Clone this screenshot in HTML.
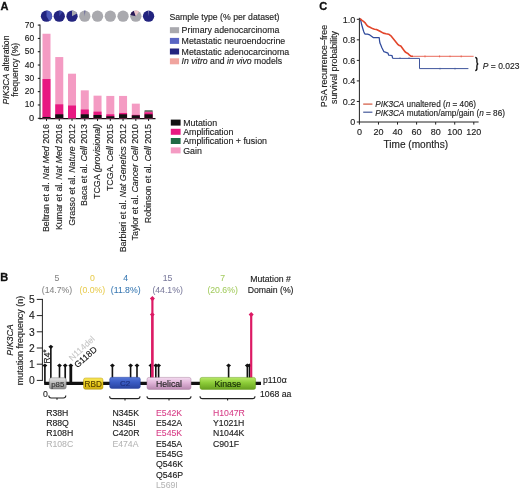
<!DOCTYPE html>
<html lang="en"><head><meta charset="utf-8"><title>PIK3CA alterations figure</title>
<style>html,body{margin:0;padding:0;background:#fff;}body{width:520px;height:491px;overflow:hidden;}svg{display:block;}</style>
</head><body>
<svg width="520" height="491" viewBox="0 0 520 491" font-family="'Liberation Sans', Arial, Helvetica, sans-serif" font-size="8.7" fill="#222">
<defs>
<linearGradient id="gp85" x1="0" y1="0" x2="0" y2="1"><stop offset="0" stop-color="#e8e8e8"/><stop offset="0.45" stop-color="#b8b8b8"/><stop offset="1" stop-color="#8c8c8c"/></linearGradient>
<linearGradient id="grbd" x1="0" y1="0" x2="0" y2="1"><stop offset="0" stop-color="#f8e860"/><stop offset="0.45" stop-color="#efd21f"/><stop offset="1" stop-color="#c8a810"/></linearGradient>
<linearGradient id="gc2" x1="0" y1="0" x2="0" y2="1"><stop offset="0" stop-color="#5878d8"/><stop offset="0.45" stop-color="#3a5cc4"/><stop offset="1" stop-color="#2a44a0"/></linearGradient>
<linearGradient id="ghel" x1="0" y1="0" x2="0" y2="1"><stop offset="0" stop-color="#f4dcf0"/><stop offset="0.45" stop-color="#e0b4d8"/><stop offset="1" stop-color="#b888b0"/></linearGradient>
<linearGradient id="gkin" x1="0" y1="0" x2="0" y2="1"><stop offset="0" stop-color="#b8e868"/><stop offset="0.45" stop-color="#8ccc38"/><stop offset="1" stop-color="#68a020"/></linearGradient>
</defs>
<rect width="520" height="491" fill="#fff"/>
<text x="0.4" y="9.9" font-size="11" font-weight="bold" fill="#111" stroke="#111" stroke-width="0.3">A</text>
<circle cx="46.50" cy="16.15" r="5.65" fill="#23247f"/>
<path d="M46.50,16.15 L46.50,10.50 A5.65,5.65 0 0 1 49.33,21.04 Z" fill="#4e59b8"/>
<circle cx="59.26" cy="16.15" r="5.65" fill="#23247f"/>
<path d="M59.26,16.15 L59.26,10.50 A5.65,5.65 0 0 1 62.74,11.70 Z" fill="#3c46a4"/>
<circle cx="72.02" cy="16.15" r="5.65" fill="#23247f"/>
<path d="M72.02,16.15 L72.02,10.50 A5.65,5.65 0 0 1 77.01,13.50 Z" fill="#a9a9ae"/>
<circle cx="84.78" cy="16.15" r="5.65" fill="#a9a9ae"/>
<path d="M84.78,16.15 L84.58,10.50 A5.65,5.65 0 0 1 85.27,10.52 Z" fill="#23247f"/>
<circle cx="97.54" cy="16.15" r="5.65" fill="#a9a9ae"/>
<circle cx="110.30" cy="16.15" r="5.65" fill="#a9a9ae"/>
<circle cx="123.06" cy="16.15" r="5.65" fill="#a9a9ae"/>
<circle cx="135.82" cy="16.15" r="5.65" fill="#a9a9ae"/>
<path d="M135.82,16.15 L130.29,14.98 A5.65,5.65 0 0 1 133.89,10.84 Z" fill="#2a1a58"/>
<path d="M135.82,16.15 L133.89,10.84 A5.65,5.65 0 0 1 139.14,11.58 Z" fill="#ecc4c8"/>
<circle cx="148.58" cy="16.15" r="5.65" fill="#23247f"/>
<path d="M148.58,16.15 L148.38,10.50 A5.65,5.65 0 0 1 148.88,10.51 Z" fill="#e8e8f4"/>
<path d="M40,24.59 V119.20" fill="none" stroke="#333" stroke-width="1.1"/>
<path d="M39.5,118.60 H155.5" fill="none" stroke="#111" stroke-width="1.2"/>
<path d="M37.8,118.30 H40" stroke="#111" stroke-width="1"/>
<text x="34.2" y="120.80" text-anchor="end" font-size="9.3" fill="#222" stroke="#222" stroke-width="0.14">0</text>
<path d="M37.8,104.98 H40" stroke="#111" stroke-width="1"/>
<text x="34.2" y="107.48" text-anchor="end" font-size="9.3" textLength="9.4" lengthAdjust="spacingAndGlyphs" fill="#222" stroke="#222" stroke-width="0.14">10</text>
<path d="M37.8,91.67 H40" stroke="#111" stroke-width="1"/>
<text x="34.2" y="94.17" text-anchor="end" font-size="9.3" textLength="9.4" lengthAdjust="spacingAndGlyphs" fill="#222" stroke="#222" stroke-width="0.14">20</text>
<path d="M37.8,78.35 H40" stroke="#111" stroke-width="1"/>
<text x="34.2" y="80.85" text-anchor="end" font-size="9.3" textLength="9.4" lengthAdjust="spacingAndGlyphs" fill="#222" stroke="#222" stroke-width="0.14">30</text>
<path d="M37.8,65.04 H40" stroke="#111" stroke-width="1"/>
<text x="34.2" y="67.54" text-anchor="end" font-size="9.3" textLength="9.4" lengthAdjust="spacingAndGlyphs" fill="#222" stroke="#222" stroke-width="0.14">40</text>
<path d="M37.8,51.73 H40" stroke="#111" stroke-width="1"/>
<text x="34.2" y="54.23" text-anchor="end" font-size="9.3" textLength="9.4" lengthAdjust="spacingAndGlyphs" fill="#222" stroke="#222" stroke-width="0.14">50</text>
<path d="M37.8,38.41 H40" stroke="#111" stroke-width="1"/>
<text x="34.2" y="40.91" text-anchor="end" font-size="9.3" textLength="9.4" lengthAdjust="spacingAndGlyphs" fill="#222" stroke="#222" stroke-width="0.14">60</text>
<path d="M37.8,25.09 H40" stroke="#111" stroke-width="1"/>
<text x="34.2" y="27.59" text-anchor="end" font-size="9.3" textLength="9.4" lengthAdjust="spacingAndGlyphs" fill="#222" stroke="#222" stroke-width="0.14">70</text>
<path d="M46.50,118.30 v2.6" stroke="#111" stroke-width="1"/>
<rect x="42.50" y="33.75" width="8" height="84.55" fill="#f49bc3"/>
<rect x="42.50" y="79.02" width="8" height="39.28" fill="#e81881"/>
<rect x="42.50" y="116.97" width="8" height="1.33" fill="#111"/>
<path d="M59.26,118.30 v2.6" stroke="#111" stroke-width="1"/>
<rect x="55.26" y="57.05" width="8" height="61.25" fill="#f49bc3"/>
<rect x="55.26" y="104.32" width="8" height="13.98" fill="#e81881"/>
<rect x="55.26" y="114.31" width="8" height="3.99" fill="#111"/>
<path d="M72.02,118.30 v2.6" stroke="#111" stroke-width="1"/>
<rect x="68.02" y="73.69" width="8" height="44.61" fill="#f49bc3"/>
<rect x="68.02" y="105.52" width="8" height="12.78" fill="#e81881"/>
<path d="M84.78,118.30 v2.6" stroke="#111" stroke-width="1"/>
<rect x="80.78" y="90.34" width="8" height="27.96" fill="#f49bc3"/>
<rect x="80.78" y="109.51" width="8" height="8.79" fill="#e81881"/>
<rect x="80.78" y="114.31" width="8" height="3.99" fill="#111"/>
<path d="M97.54,118.30 v2.6" stroke="#111" stroke-width="1"/>
<rect x="93.54" y="95.66" width="8" height="22.64" fill="#f49bc3"/>
<rect x="93.54" y="111.64" width="8" height="6.66" fill="#e81881"/>
<rect x="93.54" y="114.97" width="8" height="3.33" fill="#111"/>
<path d="M110.30,118.30 v2.6" stroke="#111" stroke-width="1"/>
<rect x="106.30" y="95.93" width="8" height="22.37" fill="#f49bc3"/>
<rect x="106.30" y="114.31" width="8" height="3.99" fill="#e81881"/>
<rect x="106.30" y="116.30" width="8" height="2.00" fill="#111"/>
<path d="M123.06,118.30 v2.6" stroke="#111" stroke-width="1"/>
<rect x="119.06" y="95.93" width="8" height="22.37" fill="#f49bc3"/>
<rect x="119.06" y="112.97" width="8" height="5.33" fill="#e81881"/>
<rect x="119.06" y="114.31" width="8" height="3.99" fill="#111"/>
<path d="M135.82,118.30 v2.6" stroke="#111" stroke-width="1"/>
<rect x="131.82" y="103.65" width="8" height="14.65" fill="#f49bc3"/>
<rect x="131.82" y="114.84" width="8" height="3.46" fill="#e81881"/>
<rect x="131.82" y="115.37" width="8" height="2.93" fill="#111"/>
<path d="M148.58,118.30 v2.6" stroke="#111" stroke-width="1"/>
<rect x="144.58" y="110.44" width="8" height="7.86" fill="#12301f"/>
<rect x="144.58" y="111.51" width="8" height="6.79" fill="#f49bc3"/>
<rect x="144.58" y="112.31" width="8" height="5.99" fill="#e81881"/>
<rect x="144.58" y="114.31" width="8" height="3.99" fill="#111"/>
<text transform="translate(8.5,70.0) rotate(-90)" text-anchor="middle" font-size="8.7" stroke="#222" stroke-width="0.14"><tspan font-style="italic">PIK3CA</tspan> alteration</text>
<text transform="translate(18.3,69.8) rotate(-90)" text-anchor="middle" font-size="8.7" stroke="#222" stroke-width="0.14">frequency (%)</text>
<text transform="translate(49.00,124.0) rotate(-90)" text-anchor="end" font-size="8.9" stroke="#222" stroke-width="0.14">Beltran et al. <tspan font-style="italic">Nat Med</tspan> 2016</text>
<text transform="translate(61.76,124.0) rotate(-90)" text-anchor="end" font-size="8.9" stroke="#222" stroke-width="0.14">Kumar et al. <tspan font-style="italic">Nat Med</tspan> 2016</text>
<text transform="translate(74.52,124.0) rotate(-90)" text-anchor="end" font-size="8.9" stroke="#222" stroke-width="0.14">Grasso et al. <tspan font-style="italic">Nature</tspan> 2012</text>
<text transform="translate(87.28,124.0) rotate(-90)" text-anchor="end" font-size="8.9" stroke="#222" stroke-width="0.14">Baca et al. <tspan font-style="italic">Cell</tspan> 2013</text>
<text transform="translate(100.04,124.0) rotate(-90)" text-anchor="end" font-size="8.9" stroke="#222" stroke-width="0.14">TCGA <tspan font-style="italic">(provisional)</tspan></text>
<text transform="translate(112.80,124.0) rotate(-90)" text-anchor="end" font-size="8.9" stroke="#222" stroke-width="0.14">TCGA. <tspan font-style="italic">Cell</tspan> 2015</text>
<text transform="translate(125.56,124.0) rotate(-90)" text-anchor="end" font-size="8.9" stroke="#222" stroke-width="0.14">Barbieri et al. <tspan font-style="italic">Nat Genetics</tspan> 2012</text>
<text transform="translate(138.32,124.0) rotate(-90)" text-anchor="end" font-size="8.9" stroke="#222" stroke-width="0.14">Taylor et al. <tspan font-style="italic">Cancer Cell</tspan> 2010</text>
<text transform="translate(151.08,124.0) rotate(-90)" text-anchor="end" font-size="8.9" stroke="#222" stroke-width="0.14">Robinson et al. <tspan font-style="italic">Cell</tspan> 2015</text>
<text x="169.4" y="19.8" font-size="8.7" stroke="#222" stroke-width="0.14">Sample type (% per dataset)</text>
<rect x="169.9" y="27.20" width="9.2" height="6.0" fill="#a9a9ae"/>
<text x="181.6" y="33.30" font-size="8.8" stroke="#222" stroke-width="0.14">Primary adenocarcinoma</text>
<rect x="169.9" y="37.90" width="9.2" height="6.0" fill="#5a66c4"/>
<text x="181.6" y="44.00" font-size="8.8" stroke="#222" stroke-width="0.14">Metastatic neuroendocrine</text>
<rect x="169.9" y="48.50" width="9.2" height="6.0" fill="#23247f"/>
<text x="181.6" y="54.60" font-size="8.8" stroke="#222" stroke-width="0.14">Metastatic adenocarcinoma</text>
<rect x="169.9" y="58.30" width="9.2" height="6.0" fill="#f0a49e"/>
<text x="181.6" y="64.40" font-size="8.7" stroke="#222" stroke-width="0.14"><tspan font-style="italic">In vitro</tspan> and <tspan font-style="italic">in vivo</tspan> models</text>
<rect x="170.8" y="119.60" width="9.8" height="6.0" fill="#111"/>
<text x="183.2" y="125.75" font-size="8.85" stroke="#222" stroke-width="0.14">Mutation</text>
<rect x="170.8" y="128.80" width="9.8" height="6.0" fill="#e81881"/>
<text x="183.2" y="134.95" font-size="8.85" stroke="#222" stroke-width="0.14">Amplification</text>
<rect x="170.8" y="138.00" width="9.8" height="6.0" fill="#1f6b45"/>
<text x="183.2" y="144.15" font-size="8.85" stroke="#222" stroke-width="0.14">Amplification + fusion</text>
<rect x="170.8" y="147.40" width="9.8" height="6.0" fill="#f49bc3"/>
<text x="183.2" y="153.55" font-size="8.85" stroke="#222" stroke-width="0.14">Gain</text>
<text x="319.2" y="9.6" font-size="11" font-weight="bold" fill="#111" stroke="#111" stroke-width="0.3">C</text>
<path d="M359.4,17.80 V122.00 H478.6" fill="none" stroke="#222" stroke-width="1"/>
<path d="M356.79999999999995,122.00 H359.4" stroke="#222" stroke-width="1"/>
<text x="355.2" y="125.20" text-anchor="end" font-size="9" stroke="#222" stroke-width="0.14">0</text>
<path d="M356.79999999999995,101.46 H359.4" stroke="#222" stroke-width="1"/>
<text x="355.2" y="104.66" text-anchor="end" font-size="9" stroke="#222" stroke-width="0.14">0.2</text>
<path d="M356.79999999999995,80.92 H359.4" stroke="#222" stroke-width="1"/>
<text x="355.2" y="84.12" text-anchor="end" font-size="9" stroke="#222" stroke-width="0.14">0.4</text>
<path d="M356.79999999999995,60.38 H359.4" stroke="#222" stroke-width="1"/>
<text x="355.2" y="63.58" text-anchor="end" font-size="9" stroke="#222" stroke-width="0.14">0.6</text>
<path d="M356.79999999999995,39.84 H359.4" stroke="#222" stroke-width="1"/>
<text x="355.2" y="43.04" text-anchor="end" font-size="9" stroke="#222" stroke-width="0.14">0.8</text>
<path d="M356.79999999999995,19.30 H359.4" stroke="#222" stroke-width="1"/>
<text x="355.2" y="22.50" text-anchor="end" font-size="9" stroke="#222" stroke-width="0.14">1.0</text>
<path d="M359.40,122.00 v2.6" stroke="#222" stroke-width="1"/>
<text x="359.40" y="134.90" text-anchor="middle" font-size="9" stroke="#222" stroke-width="0.14">0</text>
<path d="M378.47,122.00 v2.6" stroke="#222" stroke-width="1"/>
<text x="378.47" y="134.90" text-anchor="middle" font-size="9" stroke="#222" stroke-width="0.14">20</text>
<path d="M397.53,122.00 v2.6" stroke="#222" stroke-width="1"/>
<text x="397.53" y="134.90" text-anchor="middle" font-size="9" stroke="#222" stroke-width="0.14">40</text>
<path d="M416.60,122.00 v2.6" stroke="#222" stroke-width="1"/>
<text x="416.60" y="134.90" text-anchor="middle" font-size="9" stroke="#222" stroke-width="0.14">60</text>
<path d="M435.67,122.00 v2.6" stroke="#222" stroke-width="1"/>
<text x="435.67" y="134.90" text-anchor="middle" font-size="9" stroke="#222" stroke-width="0.14">80</text>
<path d="M454.73,122.00 v2.6" stroke="#222" stroke-width="1"/>
<text x="454.73" y="134.90" text-anchor="middle" font-size="9" stroke="#222" stroke-width="0.14">100</text>
<path d="M473.80,122.00 v2.6" stroke="#222" stroke-width="1"/>
<text x="473.80" y="134.90" text-anchor="middle" font-size="9" stroke="#222" stroke-width="0.14">120</text>
<text x="415.8" y="147.9" text-anchor="middle" font-size="10.1" stroke="#222" stroke-width="0.14">Time (months)</text>
<text transform="translate(326.6,66.0) rotate(-90)" text-anchor="middle" font-size="8.9" stroke="#222" stroke-width="0.14">PSA recurrence–free</text>
<text transform="translate(336.8,67.5) rotate(-90)" text-anchor="middle" font-size="8.9" stroke="#222" stroke-width="0.14">survival probability</text>
<path d="M360.1,18.7 L361.0,21.5 L361.7,24.8 L362.7,28.2 L363.7,31.5 L364.4,33.2 L365.1,34.2 L367.5,34.2 L369.8,34.9 L371.5,36.2 L373.2,37.6 L379.2,37.6 L379.5,40.3 L379.9,43.0 L380.9,45.3 L381.9,47.7 L382.9,49.7 L383.9,51.7 L386.0,52.3 L388.0,53.1 L388.6,55.1 L392.0,55.5 L392.7,58.4" fill="none" stroke="#2f4a9c" stroke-width="1.25" stroke-linejoin="round"/>
<path d="M392.7,58.4 L419.5,58.4 L419.5,68.6 L468.4,68.6" fill="none" stroke="#3f559c" stroke-width="1.0" stroke-linejoin="miter"/>
<path d="M360.1,18.7 L362.0,20.4 L363.5,21.4 L365.1,22.8 L366.5,24.9 L367.8,26.2 L370.0,27.3 L372.5,28.6 L374.5,29.2 L376.5,29.5 L380.0,31.3 L383.3,33.1 L386.0,33.7 L388.6,34.2 L391.3,36.2 L394.7,40.4 L398.1,44.7 L399.4,45.6 L400.8,46.1 L402.8,48.8 L404.8,51.5 L406.5,52.8 L408.2,53.7 L409.5,55.2 L410.9,56.2 L413.0,56.3" fill="none" stroke="#e2452a" stroke-width="1.6" stroke-linejoin="round"/>
<path d="M413.0,56.3 L473.6,56.3" fill="none" stroke="#e65a48" stroke-width="0.9"/>
<path d="M425,55.4 v2 M439.6,55.4 v2 M461.2,55.4 v2 M450,55.6 v1.6" stroke="#e4503c" stroke-width="0.7" fill="none"/>
<path d="M400,57.2 v1.8 M409,57.2 v1.8 M440,67.8 v1.8 M455,67.8 v1.8" stroke="#3f559c" stroke-width="0.6" fill="none"/>
<path d="M475.2,57.5 q1.7,0 1.7,2.0 v2.6 q0,1.7 1.3,1.9 q-1.3,0.2 -1.3,1.9 v2.6 q0,2.0 -1.7,2.0" fill="none" stroke="#111" stroke-width="1.35"/>
<text x="482.8" y="68.5" font-size="9.3" textLength="36.6" lengthAdjust="spacingAndGlyphs" stroke="#222" stroke-width="0.14"><tspan font-style="italic">P</tspan> = 0.023</text>
<path d="M363.2,104.1 h9.2" stroke="#d2553c" stroke-width="1.2"/>
<path d="M363.2,112.2 h9.2" stroke="#45589a" stroke-width="1.2"/>
<text x="375.2" y="106.9" font-size="8.5" textLength="100.8" lengthAdjust="spacingAndGlyphs" stroke="#222" stroke-width="0.14"><tspan font-style="italic">PIK3CA</tspan> unaltered (<tspan font-style="italic">n</tspan> = 406)</text>
<text x="375.2" y="115.7" font-size="8.5" textLength="129.8" lengthAdjust="spacingAndGlyphs" stroke="#222" stroke-width="0.14"><tspan font-style="italic">PIK3CA</tspan> mutation/amp/gain (<tspan font-style="italic">n</tspan> = 86)</text>
<text x="0.3" y="281.4" font-size="11" font-weight="bold" fill="#111" stroke="#111" stroke-width="0.3">B</text>
<path d="M42.4,298.90 V380.90" stroke="#222" stroke-width="1"/>
<path d="M36.8,380.40 H42.4" stroke="#222" stroke-width="1"/>
<path d="M36.8,364.20 H42.4" stroke="#222" stroke-width="1"/>
<text x="34.8" y="367.90" text-anchor="end" font-size="10.3" stroke="#222" stroke-width="0.14">1</text>
<path d="M36.8,348.00 H42.4" stroke="#222" stroke-width="1"/>
<text x="34.8" y="351.70" text-anchor="end" font-size="10.3" stroke="#222" stroke-width="0.14">2</text>
<path d="M36.8,331.80 H42.4" stroke="#222" stroke-width="1"/>
<text x="34.8" y="335.50" text-anchor="end" font-size="10.3" stroke="#222" stroke-width="0.14">3</text>
<path d="M36.8,315.60 H42.4" stroke="#222" stroke-width="1"/>
<text x="34.8" y="319.30" text-anchor="end" font-size="10.3" stroke="#222" stroke-width="0.14">4</text>
<path d="M36.8,299.40 H42.4" stroke="#222" stroke-width="1"/>
<text x="34.8" y="303.10" text-anchor="end" font-size="10.3" stroke="#222" stroke-width="0.14">5</text>
<text x="47.9" y="396.5" text-anchor="end" font-size="8.7" stroke="#222" stroke-width="0.14">0</text>
<text x="34.8" y="384.10" text-anchor="end" font-size="10.3" stroke="#222" stroke-width="0.14">0</text>
<text transform="translate(12.7,340) rotate(-90)" text-anchor="middle" font-size="8.8" font-style="italic" stroke="#222" stroke-width="0.14">PIK3CA</text>
<text transform="translate(22.8,340.5) rotate(-90)" text-anchor="middle" font-size="8.95" stroke="#222" stroke-width="0.14">mutation frequency (n)</text>
<path d="M44.2,383.4 H261" stroke="#111" stroke-width="3.4"/>
<path d="M44.90,383.4 V365.50" stroke="#111" stroke-width="1.6"/>
<path d="M44.90,363.40 l2.45,2.10 l-2.45,2.10 l-2.45,-2.10 Z" fill="#111"/>
<path d="M50.85,383.4 V346.80" stroke="#111" stroke-width="1.6"/>
<path d="M50.85,344.70 l2.45,2.10 l-2.45,2.10 l-2.45,-2.10 Z" fill="#111"/>
<path d="M59.50,383.4 V365.50" stroke="#111" stroke-width="1.6"/>
<path d="M59.50,363.40 l2.45,2.10 l-2.45,2.10 l-2.45,-2.10 Z" fill="#111"/>
<path d="M65.20,383.4 V365.50" stroke="#111" stroke-width="1.7"/>
<path d="M65.20,363.40 l2.45,2.10 l-2.45,2.10 l-2.45,-2.10 Z" fill="#111"/>
<path d="M70.80,383.4 V365.50" stroke="#111" stroke-width="2.8"/>
<path d="M70.80,363.40 l2.45,2.10 l-2.45,2.10 l-2.45,-2.10 Z" fill="#111"/>
<path d="M112.40,383.4 V365.50" stroke="#111" stroke-width="1.6"/>
<path d="M112.40,363.40 l2.45,2.10 l-2.45,2.10 l-2.45,-2.10 Z" fill="#111"/>
<path d="M130.60,383.4 V365.50" stroke="#111" stroke-width="1.6"/>
<path d="M130.60,363.40 l2.45,2.10 l-2.45,2.10 l-2.45,-2.10 Z" fill="#111"/>
<path d="M137.00,383.4 V365.50" stroke="#111" stroke-width="1.6"/>
<path d="M137.00,363.40 l2.45,2.10 l-2.45,2.10 l-2.45,-2.10 Z" fill="#111"/>
<path d="M150.90,383.4 V365.50" stroke="#111" stroke-width="1.6"/>
<path d="M150.90,363.40 l2.45,2.10 l-2.45,2.10 l-2.45,-2.10 Z" fill="#111"/>
<path d="M155.80,383.4 V365.50" stroke="#111" stroke-width="1.6"/>
<path d="M155.80,363.40 l2.45,2.10 l-2.45,2.10 l-2.45,-2.10 Z" fill="#111"/>
<path d="M158.60,383.4 V365.50" stroke="#111" stroke-width="1.6"/>
<path d="M158.60,363.40 l2.45,2.10 l-2.45,2.10 l-2.45,-2.10 Z" fill="#111"/>
<path d="M228.60,383.4 V365.50" stroke="#111" stroke-width="1.6"/>
<path d="M228.60,363.40 l2.45,2.10 l-2.45,2.10 l-2.45,-2.10 Z" fill="#111"/>
<path d="M247.30,383.4 V365.50" stroke="#111" stroke-width="1.5"/>
<path d="M247.30,363.40 l2.45,2.10 l-2.45,2.10 l-2.45,-2.10 Z" fill="#111"/>
<path d="M249.40,383.4 V365.50" stroke="#111" stroke-width="1.5"/>
<path d="M249.40,363.40 l2.45,2.10 l-2.45,2.10 l-2.45,-2.10 Z" fill="#111"/>
<path d="M152.30,383.4 V314.60" stroke="#dc1a64" stroke-width="2.2"/>
<path d="M152.30,312.20 l2.40,2.40 l-2.40,2.40 l-2.40,-2.40 Z" fill="#dc1a64"/>
<path d="M152.40,383.4 V298.60" stroke="#dc1a64" stroke-width="2.2"/>
<path d="M152.40,296.00 l2.50,2.60 l-2.50,2.60 l-2.50,-2.60 Z" fill="#dc1a64"/>
<path d="M251.20,383.4 V314.60" stroke="#dc1a64" stroke-width="2.2"/>
<path d="M251.20,312.00 l2.50,2.60 l-2.50,2.60 l-2.50,-2.60 Z" fill="#dc1a64"/>
<rect x="49.3" y="377.8" width="16.90" height="11.20" rx="2" ry="2" fill="url(#gp85)" stroke="#777" stroke-width="0.5"/>
<text x="57.75" y="386.50" text-anchor="middle" font-size="7.8" fill="#333" stroke="#333" stroke-width="0.14">p85</text>
<rect x="83.5" y="378" width="19.50" height="11.30" rx="2" ry="2" fill="url(#grbd)" stroke="#b89a10" stroke-width="0.5"/>
<text x="93.25" y="386.75" text-anchor="middle" font-size="8.2" fill="#5a4400" stroke="#5a4400" stroke-width="0.14">RBD</text>
<rect x="109.7" y="377.3" width="30.60" height="11.10" rx="2" ry="2" fill="url(#gc2)" stroke="#2a44a0" stroke-width="0.5"/>
<text x="125.00" y="385.95" text-anchor="middle" font-size="8.0" fill="#1c2e7a" stroke="#1c2e7a" stroke-width="0.14">C2</text>
<rect x="147" y="377.4" width="44.00" height="12.00" rx="2" ry="2" fill="url(#ghel)" stroke="#a880a0" stroke-width="0.5"/>
<text x="169.00" y="386.50" text-anchor="middle" font-size="8.7" fill="#222" stroke="#222" stroke-width="0.14">Helical</text>
<rect x="200" y="377.4" width="55.60" height="12.00" rx="2" ry="2" fill="url(#gkin)" stroke="#68a020" stroke-width="0.5"/>
<text x="227.80" y="386.50" text-anchor="middle" font-size="8.7" fill="#142a05" stroke="#142a05" stroke-width="0.14">Kinase</text>
<text x="263" y="383.0" font-size="8.7" stroke="#222" stroke-width="0.14">p110α</text>
<text x="260" y="396.5" font-size="8.7" stroke="#222" stroke-width="0.14">1068 aa</text>
<path d="M48.8,395.6 q0,2.4 2.4,2.4 H63.4 q2.4,0 2.4,-2.4 M57,398.0 v1.8" fill="none" stroke="#222" stroke-width="1.1"/>
<path d="M109.6,396.20000000000005 q0,2.4 2.4,2.4 H137.6 q2.4,0 2.4,-2.4 M125,398.6 v1.8" fill="none" stroke="#222" stroke-width="1.1"/>
<path d="M147,396.20000000000005 q0,2.4 2.4,2.4 H188.6 q2.4,0 2.4,-2.4 M169,398.6 v1.8" fill="none" stroke="#222" stroke-width="1.1"/>
<path d="M200,396.20000000000005 q0,2.4 2.4,2.4 H252.6 q2.4,0 2.4,-2.4 M227.6,398.6 v1.8" fill="none" stroke="#222" stroke-width="1.1"/>
<text x="57" y="281.4" text-anchor="middle" font-size="8.7" fill="#848484" stroke="#848484" stroke-width="0.06">5</text>
<text x="57" y="293.2" text-anchor="middle" font-size="8.7" fill="#848484" stroke="#848484" stroke-width="0.06">(14.7%)</text>
<text x="92.3" y="281.4" text-anchor="middle" font-size="8.7" fill="#e8cc50" stroke="#e8cc50" stroke-width="0.06">0</text>
<text x="92.3" y="293.2" text-anchor="middle" font-size="8.7" fill="#e8cc50" stroke="#e8cc50" stroke-width="0.06">(0.0%)</text>
<text x="125.7" y="281.4" text-anchor="middle" font-size="8.7" fill="#3878b2" stroke="#3878b2" stroke-width="0.06">4</text>
<text x="125.7" y="293.2" text-anchor="middle" font-size="8.7" fill="#3878b2" stroke="#3878b2" stroke-width="0.06">(11.8%)</text>
<text x="167.6" y="281.4" text-anchor="middle" font-size="8.7" fill="#7a7a9c" stroke="#7a7a9c" stroke-width="0.06">15</text>
<text x="167.6" y="293.2" text-anchor="middle" font-size="8.7" fill="#7a7a9c" stroke="#7a7a9c" stroke-width="0.06">(44.1%)</text>
<text x="222.6" y="281.4" text-anchor="middle" font-size="8.7" fill="#a4cc60" stroke="#a4cc60" stroke-width="0.06">7</text>
<text x="222.6" y="293.2" text-anchor="middle" font-size="8.7" fill="#a4cc60" stroke="#a4cc60" stroke-width="0.06">(20.6%)</text>
<text x="270.6" y="281.6" text-anchor="middle" font-size="8.7" stroke="#222" stroke-width="0.14">Mutation #</text>
<text x="270.6" y="293.4" text-anchor="middle" font-size="8.7" stroke="#222" stroke-width="0.14">Domain (%)</text>
<text transform="translate(49.9,363.4) rotate(-90)" font-size="8.4" stroke="#222" stroke-width="0.14">R4<tspan dy="-1">*</tspan></text>
<text transform="translate(72.3,361.4) rotate(-43.5)" font-size="8.7" fill="#c4c4c4" stroke="#c4c4c4" stroke-width="0.06">N114del</text>
<text transform="translate(77.6,368.2) rotate(-42)" font-size="8.7" fill="#111" stroke="#111" stroke-width="0.14">G118D</text>
<text x="46.2" y="415.60" font-size="8.7" fill="#222" stroke="#222" stroke-width="0.14">R38H</text>
<text x="46.2" y="425.96" font-size="8.7" fill="#222" stroke="#222" stroke-width="0.14">R88Q</text>
<text x="46.2" y="436.32" font-size="8.7" fill="#222" stroke="#222" stroke-width="0.14">R108H</text>
<text x="46.2" y="446.68" font-size="8.7" fill="#b4b4b4" stroke="#b4b4b4" stroke-width="0.06">R108C</text>
<text x="112.4" y="415.60" font-size="8.7" fill="#222" stroke="#222" stroke-width="0.14">N345K</text>
<text x="112.4" y="425.96" font-size="8.7" fill="#222" stroke="#222" stroke-width="0.14">N345I</text>
<text x="112.4" y="436.32" font-size="8.7" fill="#222" stroke="#222" stroke-width="0.14">C420R</text>
<text x="112.4" y="446.68" font-size="8.7" fill="#b4b4b4" stroke="#b4b4b4" stroke-width="0.06">E474A</text>
<text x="156" y="415.60" font-size="8.7" fill="#d63a84" stroke="#d63a84" stroke-width="0.06">E542K</text>
<text x="156" y="425.96" font-size="8.7" fill="#222" stroke="#222" stroke-width="0.14">E542A</text>
<text x="156" y="436.32" font-size="8.7" fill="#d63a84" stroke="#d63a84" stroke-width="0.06">E545K</text>
<text x="156" y="446.68" font-size="8.7" fill="#222" stroke="#222" stroke-width="0.14">E545A</text>
<text x="156" y="457.04" font-size="8.7" fill="#222" stroke="#222" stroke-width="0.14">E545G</text>
<text x="156" y="467.40" font-size="8.7" fill="#222" stroke="#222" stroke-width="0.14">Q546K</text>
<text x="156" y="477.76" font-size="8.7" fill="#222" stroke="#222" stroke-width="0.14">Q546P</text>
<text x="156" y="488.12" font-size="8.7" fill="#b4b4b4" stroke="#b4b4b4" stroke-width="0.06">L569I</text>
<text x="213" y="415.60" font-size="8.7" fill="#d63a84" stroke="#d63a84" stroke-width="0.06">H1047R</text>
<text x="213" y="425.96" font-size="8.7" fill="#222" stroke="#222" stroke-width="0.14">Y1021H</text>
<text x="213" y="436.32" font-size="8.7" fill="#222" stroke="#222" stroke-width="0.14">N1044K</text>
<text x="213" y="446.68" font-size="8.7" fill="#222" stroke="#222" stroke-width="0.14">C901F</text>
</svg>
</body></html>
